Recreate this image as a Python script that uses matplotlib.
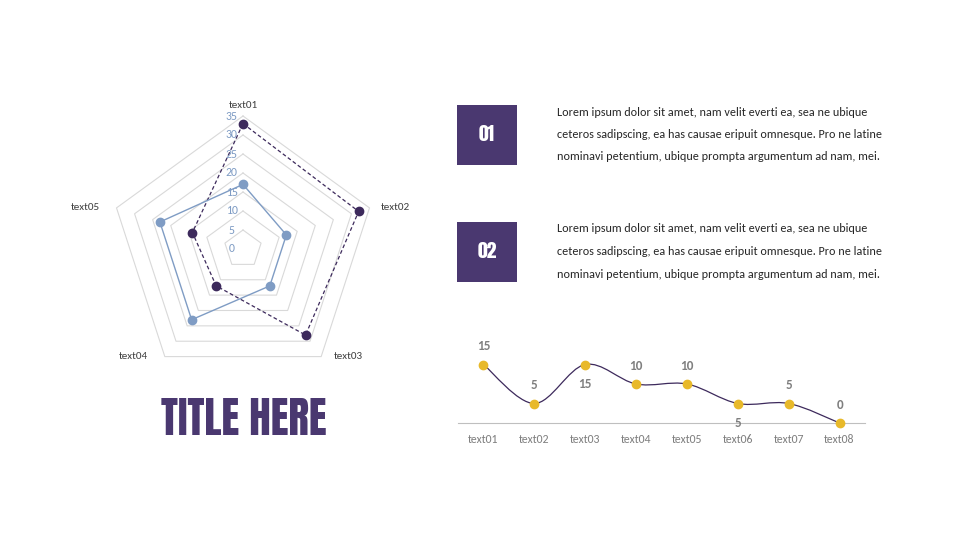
import numpy as np
import matplotlib.pyplot as plt
from matplotlib.path import Path
from matplotlib.patches import PathPatch, Rectangle

# --- data ---
radar_labels = ["text01", "text02", "text03", "text04", "text05"]
radar_dark = [33, 32, 28, 12, 14]
radar_light = [17, 12, 12, 23, 23]
ring_levels = [0, 5, 10, 15, 20, 25, 30, 35]

line_labels = ["text01", "text02", "text03", "text04", "text05", "text06", "text07", "text08"]
line_values = [15, 5, 15, 10, 10, 5, 5, 0]
label_side = ["above", "above", "below", "above", "above", "below", "above", "above"]

box_numbers = ["01", "02"]
body_lines = [
    "Lorem ipsum dolor sit amet, nam velit everti ea, sea ne ubique",
    "ceteros sadipscing, ea has causae eripuit omnesque. Pro ne latine",
    "nominavi petentium, ubique prompta argumentum ad nam, mei.",
]
title = "TITLE HERE"

PURPLE = "#4a3870"
DARK = "#3d2a5c"
LIGHT = "#7f9cc4"
GOLD = "#e8b92a"
GREY = "#7f7f7f"
BODY_FONT = ["Carlito", "DejaVu Sans"]
HEAD_FONT = ["Anton", "DejaVu Sans"]

W, H = 960, 540
fig = plt.figure(figsize=(9.6, 5.4), dpi=100)
fig.patch.set_facecolor("white")


def px_rect(x0, y0, x1, y1):
    return [x0 / W, 1 - y1 / H, (x1 - x0) / W, (y1 - y0) / H]


# --- radar chart ---
ax = fig.add_axes(px_rect(91, 97, 395, 401))
ax.set_xlim(-40, 40)
ax.set_ylim(-40, 40)
ax.axis("off")

angles = np.pi / 2 - 2 * np.pi * np.arange(len(radar_labels)) / len(radar_labels)


def to_xy(vals):
    v = np.asarray(vals, dtype=float)
    x = v * np.cos(angles)
    y = v * np.sin(angles)
    return np.append(x, x[0]), np.append(y, y[0])


for lev in ring_levels[1:]:
    rx, ry = to_xy([lev] * len(radar_labels))
    ax.plot(rx, ry, color="#d9d9d9", lw=0.8, zorder=1)

dx, dy = to_xy(radar_dark)
ax.plot(dx, dy, color=DARK, lw=0.9, dashes=(3, 2), zorder=2)
ax.plot(dx[:-1], dy[:-1], "o", color=DARK, ms=6, zorder=3)
lx, ly = to_xy(radar_light)
ax.plot(lx, ly, color=LIGHT, lw=1, zorder=2)
ax.plot(lx[:-1], ly[:-1], "o", color=LIGHT, ms=6, zorder=3)

for lev in ring_levels:
    ax.annotate(str(lev), xy=(0, lev), xytext=(-8, 0), textcoords="offset points",
                ha="center", va="center", fontsize=8.5, color=LIGHT, family=BODY_FONT)

outer = ring_levels[-1]
offsets = [((0, 4), "center", "bottom"), ((8, 0), "left", "center"),
           ((9, 0), "left", "center"), ((-12, 0), "right", "center"),
           ((-12, 0), "right", "center")]
for name, ang, (off, ha, va) in zip(radar_labels, angles, offsets):
    ax.annotate(name, xy=(outer * np.cos(ang), outer * np.sin(ang)), xytext=off,
                textcoords="offset points", ha=ha, va=va, fontsize=8,
                color="#404040", family=BODY_FONT)

fig.text(244 / W, 1 - 419 / H, title, ha="center", va="center", fontsize=31,
         color=PURPLE, family=HEAD_FONT)

# --- numbered boxes with text ---
for i, num in enumerate(box_numbers):
    top = 105 + i * 117
    fig.add_artist(Rectangle((457 / W, 1 - (top + 60) / H), 60 / W, 60 / H,
                             transform=fig.transFigure, facecolor=PURPLE, edgecolor="none"))
    fig.text(487 / W, 1 - (top + 29) / H, num, ha="center", va="center", fontsize=14,
             color="white", family=HEAD_FONT)
    for j, line in enumerate(body_lines):
        fig.text(557 / W, 1 - (top + 7 + j * 22.5) / H, line, ha="left", va="center",
                 fontsize=8.7, color="#262626", family=BODY_FONT)

# --- smoothed line chart ---
ax2 = fig.add_axes(px_rect(458, 340, 865, 423))
xs = np.arange(len(line_values))
ax2.set_xlim(-0.5, len(line_values) - 0.5)
ax2.set_ylim(0, 83 / 3.9)
for s in ["top", "right", "left"]:
    ax2.spines[s].set_visible(False)
ax2.spines["bottom"].set_color("#bfbfbf")
ax2.spines["bottom"].set_linewidth(0.8)
ax2.set_yticks([])
ax2.set_xticks(xs)
ax2.set_xticklabels(line_labels, fontsize=8.5, color=GREY, family=BODY_FONT)
ax2.tick_params(axis="x", length=0, pad=8)

pts = np.column_stack([xs, line_values]).astype(float)
ext = np.vstack([pts[0], pts, pts[-1]])
verts = [tuple(pts[0])]
codes = [Path.MOVETO]
for i in range(len(pts) - 1):
    p0, p1, p2, p3 = ext[i], ext[i + 1], ext[i + 2], ext[i + 3]
    c1 = p1 + (p2 - p0) / 6
    c2 = p2 - (p3 - p1) / 6
    verts += [tuple(c1), tuple(c2), tuple(p2)]
    codes += [Path.CURVE4] * 3
ax2.add_patch(PathPatch(Path(verts, codes), facecolor="none", edgecolor=DARK,
                        lw=0.9, clip_on=False, zorder=2))
ax2.plot(xs, line_values, "o", color=GOLD, ms=6, clip_on=False, zorder=3)

for x, v, side in zip(xs, line_values, label_side):
    dy = 13 if side == "above" else -14
    ax2.annotate(str(v), xy=(x, v), xytext=(0, dy), textcoords="offset points",
                 ha="center", va="center", fontsize=9.5, fontweight="bold",
                 color=GREY, family=BODY_FONT)

fig.savefig("out.png", dpi=100, facecolor="white")
